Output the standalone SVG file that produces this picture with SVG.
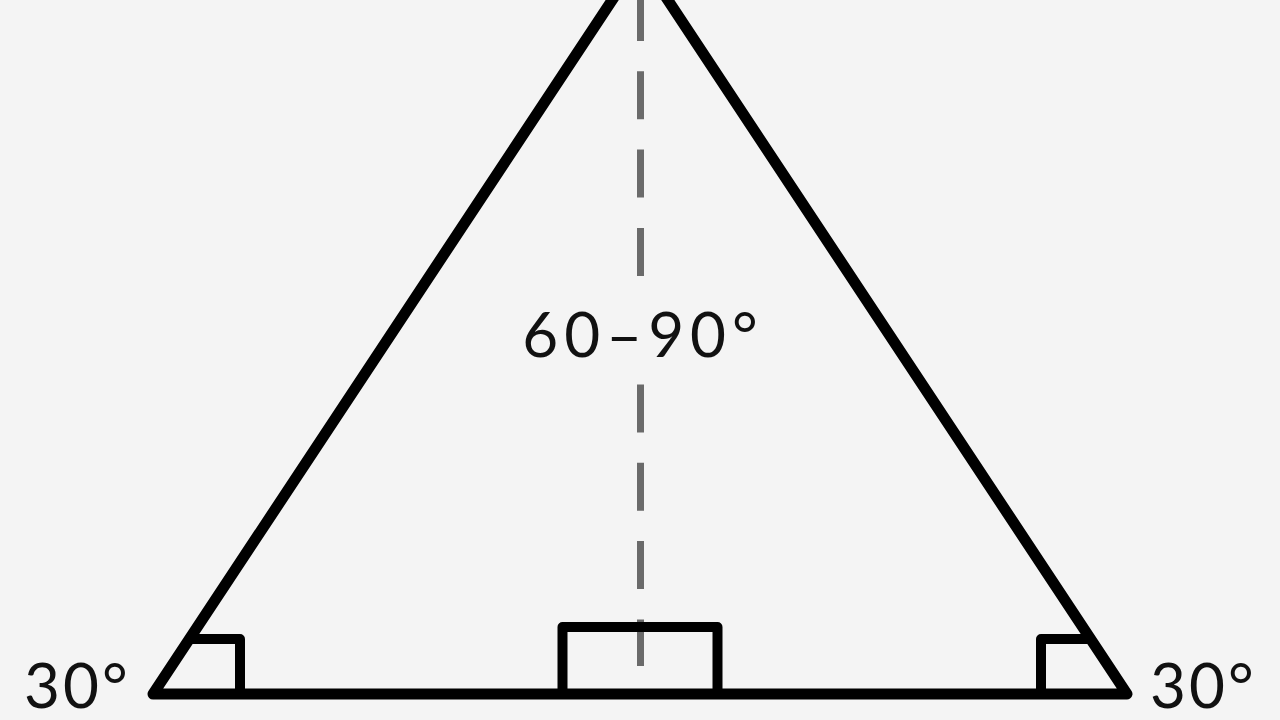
<svg xmlns="http://www.w3.org/2000/svg" width="1280" height="720" viewBox="0 0 1280 720">
<style>
.edge{fill:none;stroke:#000;stroke-width:11;stroke-linejoin:round;stroke-linecap:round}
.mark{fill:none;stroke:#000;stroke-width:10;stroke-linejoin:round;stroke-linecap:butt}
.lbl{font-family:Lato,"Liberation Sans",sans-serif;font-size:62px;fill:#111}
</style>
<rect width="1280" height="720" fill="#f4f4f4"/>
<g id="altitude">
<line x1="640.5" y1="-7" x2="640.5" y2="666" stroke="#6a6a6a" stroke-width="7" stroke-dasharray="48 30.3"/>
</g>
<g id="triangle">
<path class="edge" d="M153 694 L640 -42 L1127 694 Z"/>
</g>
<g id="right-angles">
<path class="mark" d="M189.6 639 L240 639 L240 694"/>
<path class="mark" d="M1090.4 639 L1041 639 L1041 694"/>
<path class="mark" d="M562.5 694 L562.5 627 L717.5 627 L717.5 694"/>
</g>
<g id="labels">
<rect x="508" y="300" width="264" height="68" fill="#f4f4f4"/>
<text class="lbl" x="643" y="357" text-anchor="middle" letter-spacing="6">60–90°</text>
<text class="lbl" x="24" y="708" letter-spacing="3">30°</text>
<text class="lbl" x="1150" y="708" letter-spacing="3">30°</text>
</g>
</svg>
